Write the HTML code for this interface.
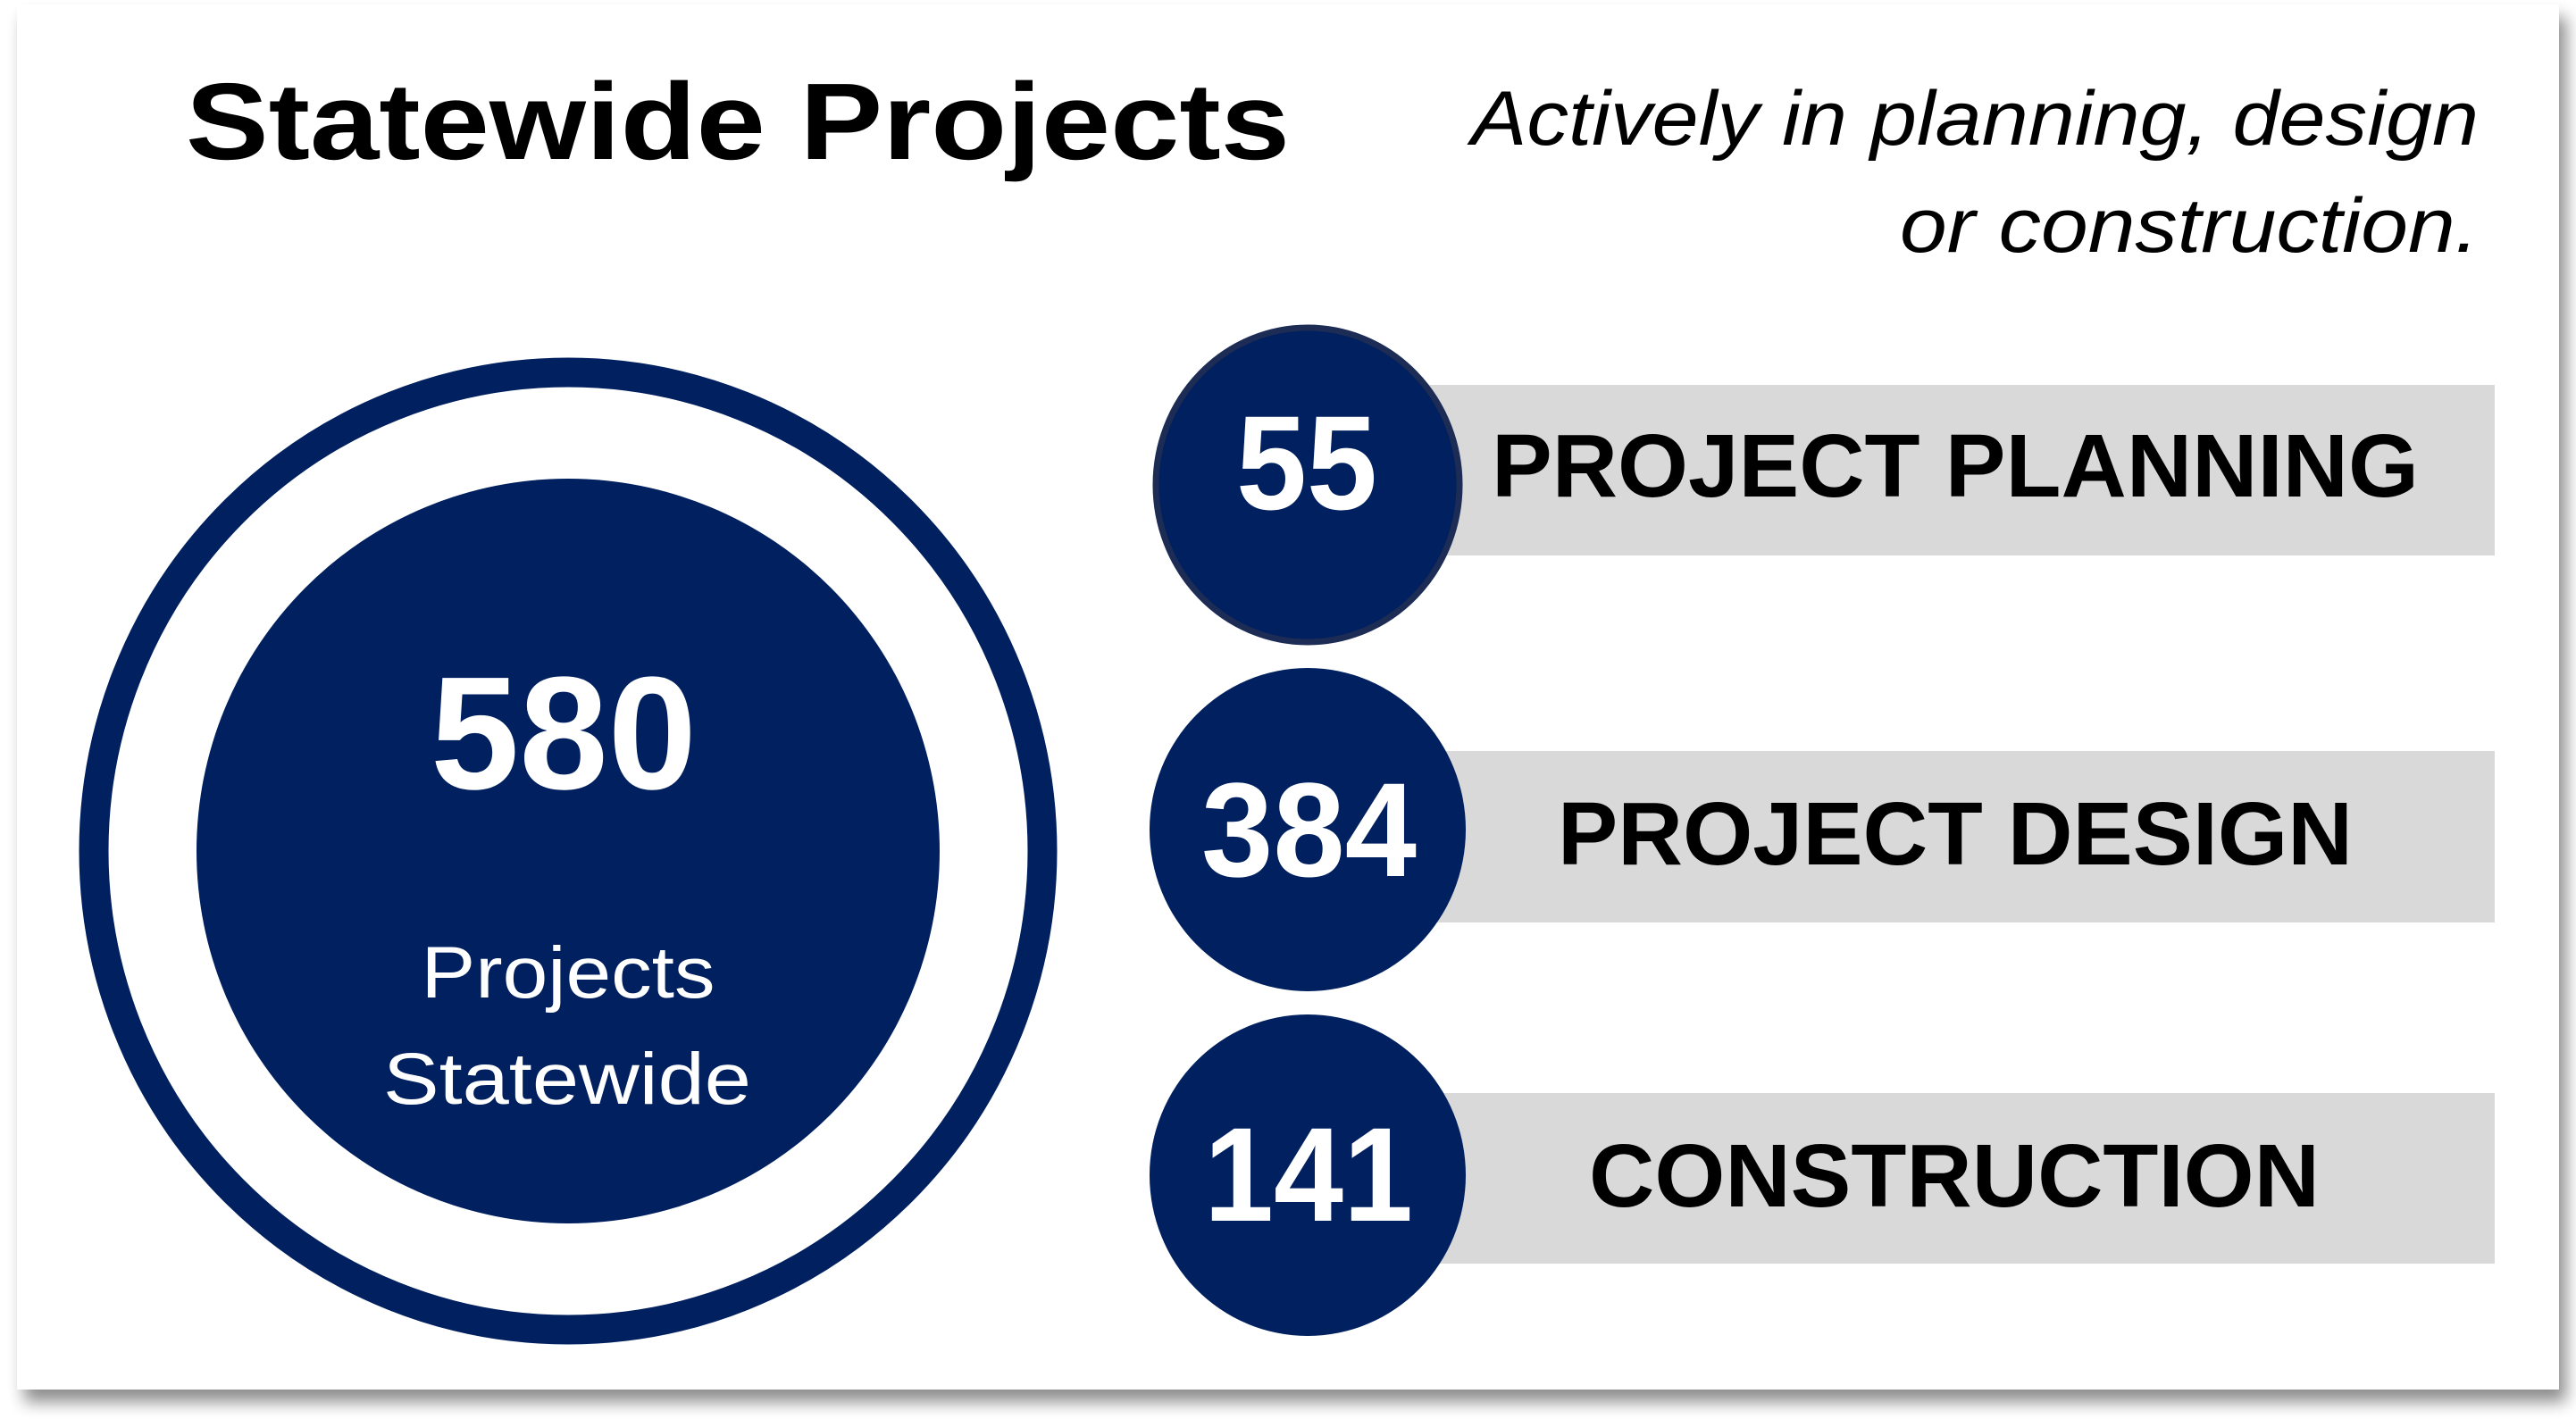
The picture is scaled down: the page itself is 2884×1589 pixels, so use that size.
<!DOCTYPE html>
<html><head><meta charset="utf-8"><style>
html,body{margin:0;padding:0;background:#fff;width:2884px;height:1589px;overflow:hidden}
svg{display:block}
</style></head><body>
<svg width="2884" height="1589" viewBox="0 0 2884 1589" xmlns="http://www.w3.org/2000/svg">
<defs>
<filter id="sh" x="-5%" y="-5%" width="110%" height="110%">
<feGaussianBlur in="SourceAlpha" stdDeviation="9"/>
<feOffset dx="8" dy="14"/>
<feComponentTransfer><feFuncA type="linear" slope="0.45"/></feComponentTransfer>
<feMerge><feMergeNode/><feMergeNode in="SourceGraphic"/></feMerge>
</filter>
</defs>
<rect x="19" y="5" width="2846" height="1551" fill="#fff" filter="url(#sh)"/>
<text x="208" y="178" font-family="Liberation Sans, sans-serif" font-weight="bold" font-size="122" textLength="1236" lengthAdjust="spacingAndGlyphs" fill="#000">Statewide Projects</text>
<text x="2775" y="162" text-anchor="end" font-family="Liberation Sans, sans-serif" font-style="italic" font-size="86" textLength="1128" lengthAdjust="spacingAndGlyphs" fill="#000">Actively in planning, design</text>
<text x="2775" y="282" text-anchor="end" font-family="Liberation Sans, sans-serif" font-style="italic" font-size="86" textLength="648" lengthAdjust="spacingAndGlyphs" fill="#000">or construction.</text>

<ellipse cx="636" cy="953" rx="531" ry="536" fill="none" stroke="#012060" stroke-width="33"/>
<ellipse cx="636" cy="953" rx="416" ry="417" fill="#012060"/>
<text x="631" y="883" text-anchor="middle" font-family="Liberation Sans, sans-serif" font-weight="bold" font-size="180" textLength="298" lengthAdjust="spacingAndGlyphs" fill="#fff">580</text>
<text x="636" y="1117" text-anchor="middle" font-family="Liberation Sans, sans-serif" font-size="82" textLength="329" lengthAdjust="spacingAndGlyphs" fill="#fff">Projects</text>
<text x="635" y="1236" text-anchor="middle" font-family="Liberation Sans, sans-serif" font-size="82" textLength="412" lengthAdjust="spacingAndGlyphs" fill="#fff">Statewide</text>

<rect x="1560" y="431" width="1233" height="191" fill="#d9d9d9"/>
<rect x="1560" y="841" width="1233" height="192" fill="#d9d9d9"/>
<rect x="1560" y="1224" width="1233" height="191" fill="#d9d9d9"/>

<ellipse cx="1464" cy="543" rx="170" ry="176" fill="#012060" stroke="#1c2c55" stroke-width="7"/>
<ellipse cx="1464" cy="929" rx="177" ry="181" fill="#012060"/>
<ellipse cx="1464" cy="1316" rx="177" ry="180" fill="#012060"/>

<g font-family="Liberation Sans, sans-serif" font-weight="bold" fill="#fff" font-size="150">
<text x="1384" y="570" textLength="158" lengthAdjust="spacingAndGlyphs">55</text>
<text x="1345" y="981" textLength="241" lengthAdjust="spacingAndGlyphs">384</text>
<text x="1348" y="1367" textLength="234" lengthAdjust="spacingAndGlyphs">141</text>
</g>
<g font-family="Liberation Sans, sans-serif" font-weight="bold" fill="#000" font-size="100">
<text x="1670" y="556" textLength="1038" lengthAdjust="spacingAndGlyphs">PROJECT PLANNING</text>
<text x="1744" y="968" textLength="890" lengthAdjust="spacingAndGlyphs">PROJECT DESIGN</text>
<text x="1779" y="1351" textLength="818" lengthAdjust="spacingAndGlyphs">CONSTRUCTION</text>
</g>
</svg>
</body></html>
